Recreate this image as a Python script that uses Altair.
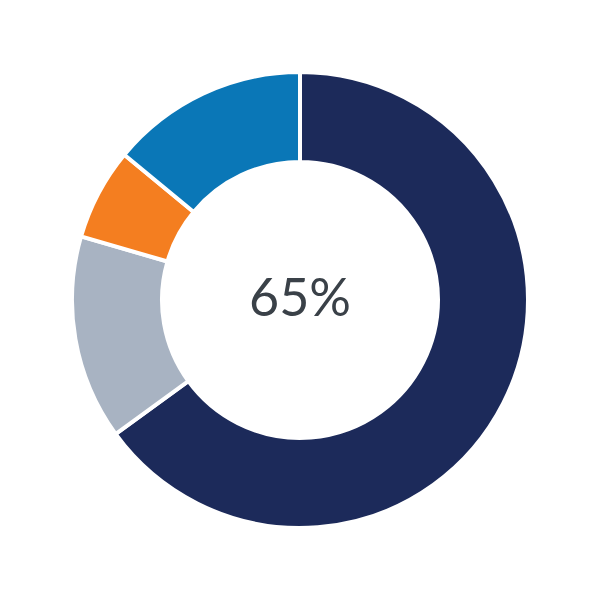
import altair as alt
import pandas as pd

categories = ["A", "B", "C", "D"]
values = [65, 14.5, 6.5, 14]
colors = ["#1c2a5a", "#a8b3c2", "#f47e20", "#0a77b7"]
center_label = ["65%"]

df = pd.DataFrame({"cat": categories, "value": values, "order": list(range(len(values)))})

arcs = alt.Chart(df).mark_arc(
    outerRadius=228, innerRadius=138, stroke="white", strokeWidth=4
).encode(
    theta=alt.Theta("value:Q", stack=True),
    color=alt.Color("cat:N", scale=alt.Scale(domain=categories, range=colors), legend=None),
    order=alt.Order("order:Q"),
)

text = alt.Chart(pd.DataFrame({"t": center_label})).mark_text(
    font="Lato", fontSize=52, fontWeight="normal", color="#3a4148", baseline="middle", align="center"
).encode(text="t:N", x=alt.value(292), y=alt.value(292))

chart = alt.layer(arcs, text).properties(
    width=584, height=584, padding=0,
    autosize=alt.AutoSizeParams(type="fit", contains="padding"),
).configure_view(stroke=None)

chart.save("out.html", embed_options={"renderer": "svg", "actions": False})
